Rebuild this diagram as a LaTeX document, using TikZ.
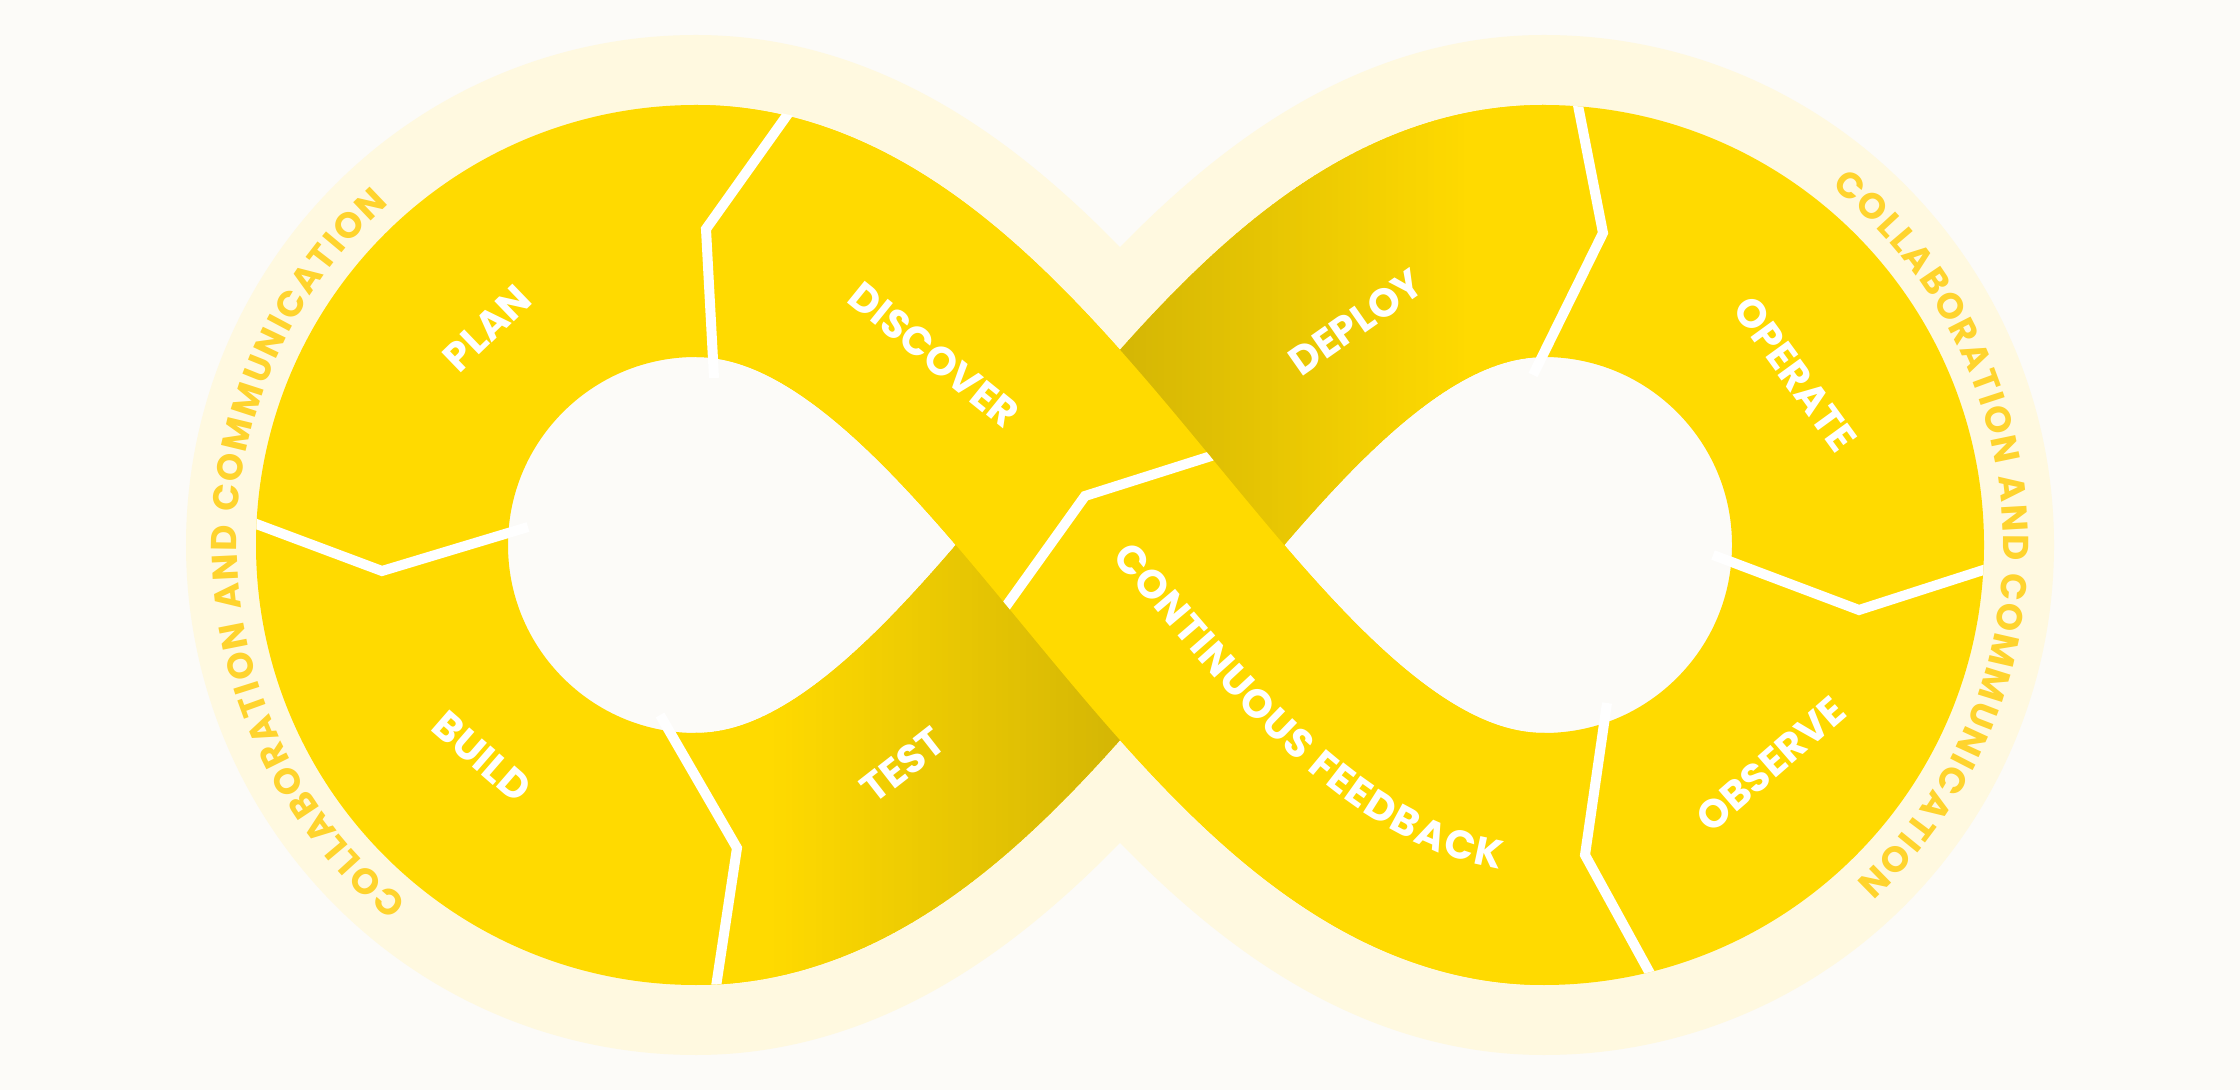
\documentclass[tikz,border=0pt]{standalone}
\usepackage{fontspec}
\setmainfont{Poppins}
\newfontfamily\lblfont{Poppins}[BoldFont={* Bold}]
\newfontfamily\arcfont{Poppins}[BoldFont={* Bold}]
\usetikzlibrary{decorations.text}
\definecolor{bgc}{HTML}{FCFBF8}
\definecolor{palec}{HTML}{FFF9E0}
\definecolor{ybright}{HTML}{FFDA00}
\definecolor{ydark}{HTML}{D4B605}
\definecolor{goldtxt}{HTML}{FFD42E}
\begin{document}
\begin{tikzpicture}[x=1pt,y=1pt,
  lbl/.style={font=\lblfont\bfseries\fontsize{40}{46}\selectfont, text=white, inner sep=0pt},
  cutline/.style={draw=white, line width=10pt, line join=miter, line cap=butt},
  bandpale/.style={draw=palec, line width=392pt},
  bandyel/.style={draw=ybright, line width=252pt}]
\useasboundingbox (0,0) rectangle (2240,1090);
\fill[bgc] (0,0) rectangle (2240,1090);
% pale outer band
\draw[bandpale] (1120,545) .. controls (1249.5,388) and (1379,231) .. (1544,231)
  arc[start angle=-90, end angle=90, radius=314]
  .. controls (1379,859) and (1249.5,702) .. (1120,545)
  .. controls (990.5,388) and (861,231) .. (696,231)
  arc[start angle=-90, end angle=-270, radius=314]
  .. controls (861,859) and (990.5,702) .. (1120,545) -- cycle;
% holes
\fill[bgc] (1120,545) .. controls (1249.5,388) and (1379,231) .. (1544,231)
  arc[start angle=-90, end angle=90, radius=314]
  .. controls (1379,859) and (1249.5,702) .. (1120,545)
  .. controls (990.5,388) and (861,231) .. (696,231)
  arc[start angle=-90, end angle=-270, radius=314]
  .. controls (861,859) and (990.5,702) .. (1120,545) -- cycle;
% yellow band
\draw[bandyel] (1120,545) .. controls (1249.5,388) and (1379,231) .. (1544,231)
  arc[start angle=-90, end angle=90, radius=314]
  .. controls (1379,859) and (1249.5,702) .. (1120,545)
  .. controls (990.5,388) and (861,231) .. (696,231)
  arc[start angle=-90, end angle=-270, radius=314]
  .. controls (861,859) and (990.5,702) .. (1120,545) -- cycle;
% shaded lower band (TEST / DEPLOY)
\foreach \x in {690,696,...,1548}{
  \pgfmathsetmacro{\q}{min(100,abs(\x+3-1120)/3.5)}
  \begin{scope}
    \clip (\x,0) rectangle (\x+7,1090);
    \draw[line width=252pt, draw=ybright!\q!ydark] (696,231) .. controls (1026,231) and (1214,859) .. (1544,859);
  \end{scope}
}
% upper band (DISCOVER / CONTINUOUS FEEDBACK)
\draw[bandyel] (696,859) .. controls (1026,859) and (1214,231) .. (1544,231);
% cuts
\begin{scope}
  \clip (696,545) circle[radius=440];
  \draw[cutline] (795,986) -- (706,861) -- (714,712);
  \draw[cutline] (243,571) -- (382,519) -- (528,563);
  \draw[cutline] (660,375) -- (737,242) -- (714,90);
\end{scope}
\begin{scope}
  \clip (1544,545) circle[radius=440];
  \draw[cutline] (1575,1000) -- (1603,857) -- (1533,715);
  \draw[cutline] (1713,535) -- (1859,480) -- (2002,526);
  \draw[cutline] (1607,387) -- (1585,235) -- (1658,102);
\end{scope}
\begin{scope}
  \clip (927.3,580.5) -- (1121.7,740.9) -- (1312.7,509.5) -- (1118.3,349.1) -- cycle;
  \draw[cutline] (1227,639) -- (1085,594) -- (994,467);
\end{scope}
% labels
\node[lbl, rotate=44] (plan) at (487,762) {PLAN};
\node[lbl, rotate=-41] (build) at (482,333) {BUILD};
\node[lbl, rotate=-39] (discover) at (934,735) {DISCOVER};
\node[lbl, rotate=38] (test) at (903,325) {TEST};
\node[lbl, rotate=35] (deploy) at (1356,768) {DEPLOY};
\node[lbl, rotate=-54] (operate) at (1795,716) {OPERATE};
\node[lbl, rotate=41] (observe) at (1771,326) {OBSERVE};
\path[decorate, decoration={text along path, raise=-14pt,
   text={|\arcfont\bfseries\fontsize{40}{46}\selectfont\color{white}|CONTINUOUS FEEDBACK},
   text align={left indent=4pt, right indent=42pt, fit to path}}]
   (1120,545) .. controls (1249.5,388) and (1379,231) .. (1544,231);
% outer curved texts
\path[shift={(696,545)}, decorate, decoration={text along path,
   text={|\arcfont\bfseries\fontsize{36}{40}\selectfont\color{goldtxt}|COLLABORATION AND COMMUNICATION},
   text align={fit to path}}]
   (231:459) arc[start angle=231, end angle=132, radius=459];
\path[shift={(1544,545)}, decorate, decoration={text along path,
   text={|\arcfont\bfseries\fontsize{36}{40}\selectfont\color{goldtxt}|COLLABORATION AND COMMUNICATION},
   text align={fit to path}}]
   (51.3:459) arc[start angle=51.3, end angle=-47.2, radius=459];
\end{tikzpicture}
\end{document}
